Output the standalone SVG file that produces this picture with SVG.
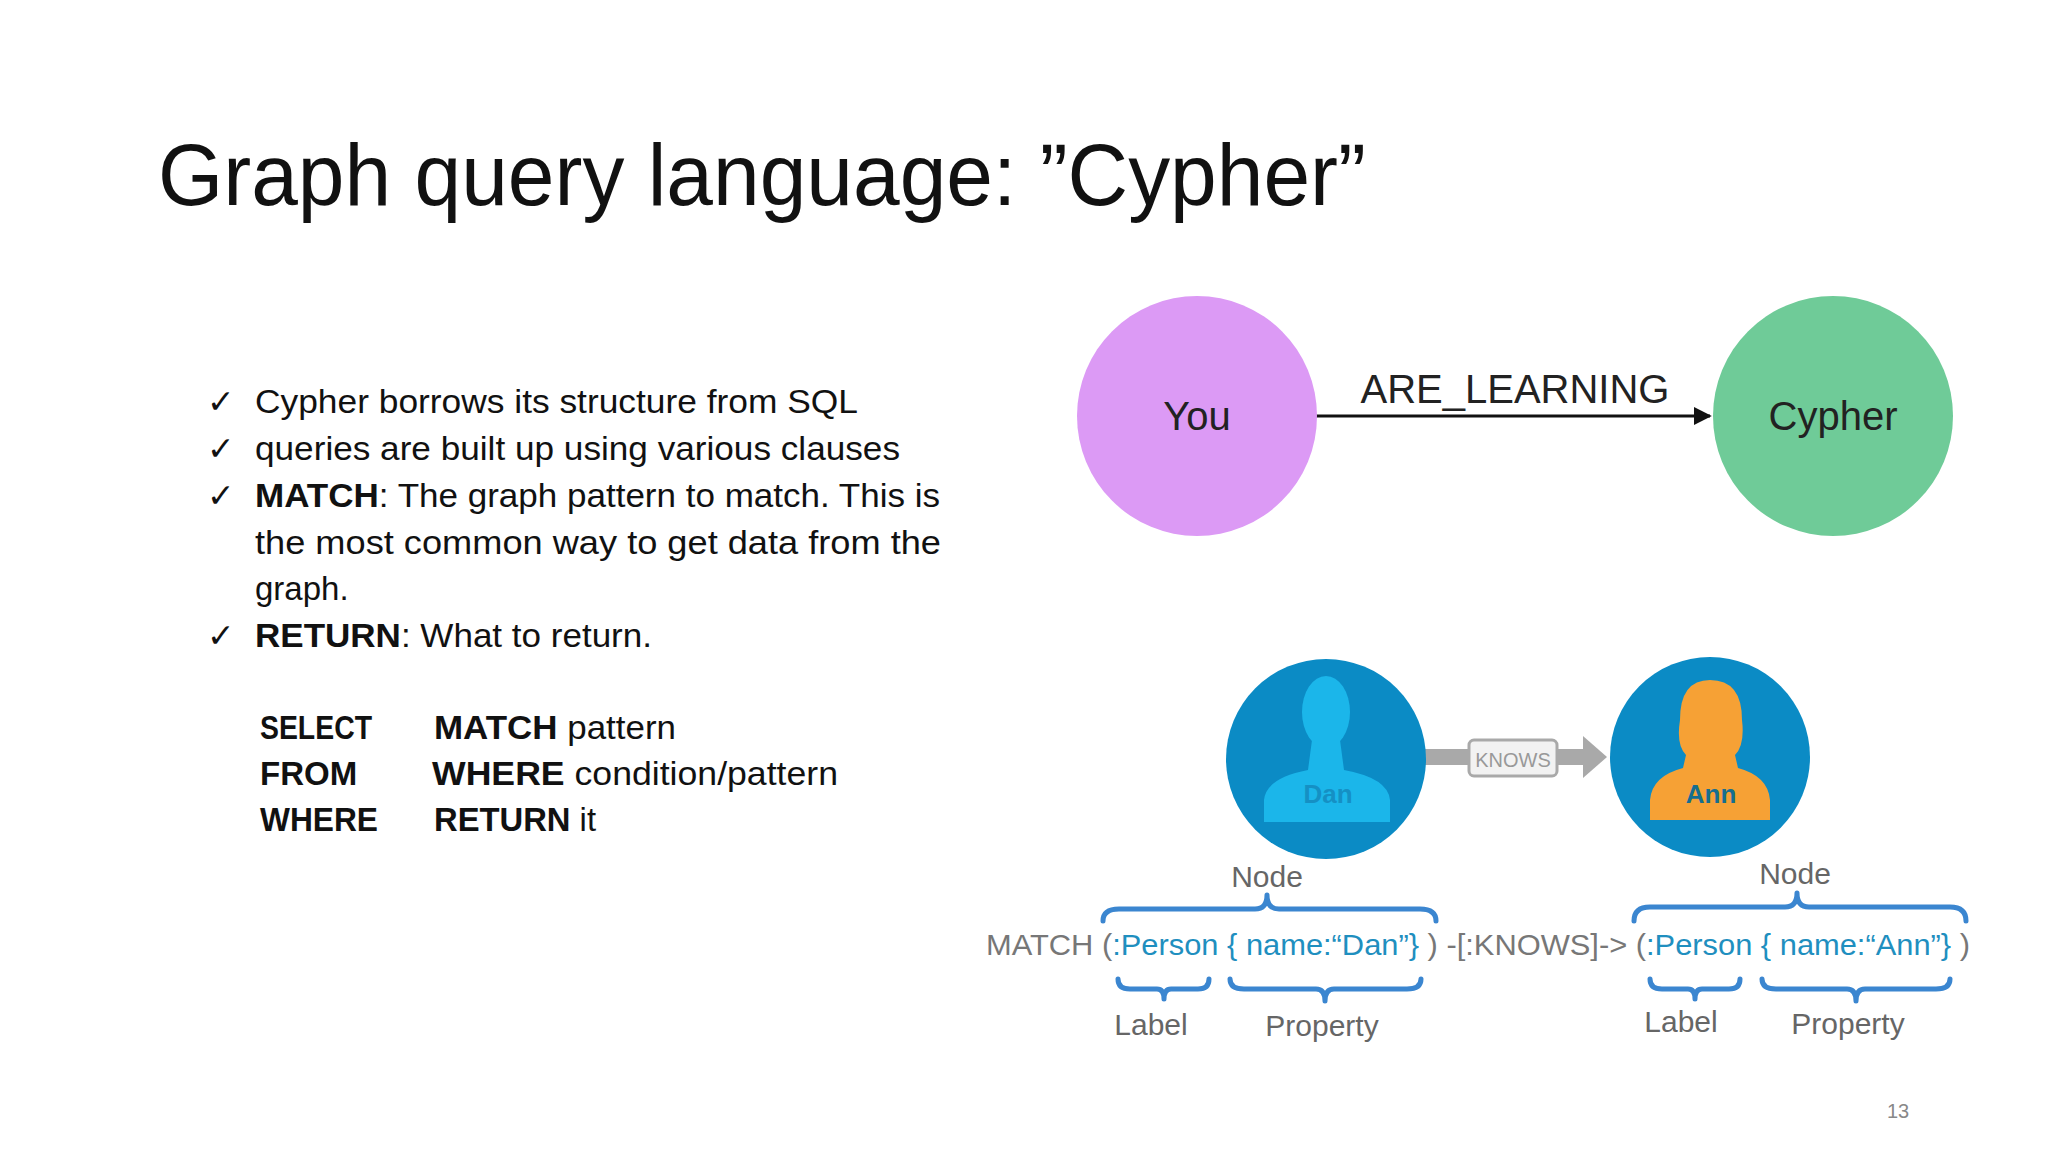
<svg xmlns="http://www.w3.org/2000/svg" width="2048" height="1152" viewBox="0 0 2048 1152">
<defs>
<style>
.t{font-family:"Liberation Sans",Arial,sans-serif}
.b{font-size:33px;fill:#111}
.bb{font-weight:bold}
.m{font-size:30px;fill:#777}
.teal{fill:#1f8fbf}
.brace{fill:none;stroke:#3b86d0;stroke-width:5;stroke-linecap:round;stroke-linejoin:round}
.lbl{font-size:30px;fill:#666;text-anchor:middle}
</style>
<marker id="ah" viewBox="0 0 10 10" refX="9" refY="5" markerWidth="6" markerHeight="6" orient="auto"><path d="M0,0L10,5L0,10z" fill="#111"/></marker>
</defs>
<rect width="2048" height="1152" fill="#fff"/>
<text class="t" x="158" y="205" font-size="88" fill="#111" textLength="1208" lengthAdjust="spacingAndGlyphs">Graph query language: ”Cypher”</text>
<g id="bullets" class="t b">
<text x="207" y="413">✓</text><text x="255" y="413" textLength="603" lengthAdjust="spacingAndGlyphs">Cypher borrows its structure from SQL</text>
<text x="207" y="460">✓</text><text x="255" y="460" textLength="645" lengthAdjust="spacingAndGlyphs">queries are built up using various clauses</text>
<text x="207" y="507">✓</text><text x="255" y="507" textLength="685" lengthAdjust="spacingAndGlyphs"><tspan class="bb">MATCH</tspan>: The graph pattern to match. This is</text>
<text x="255" y="554" textLength="686" lengthAdjust="spacingAndGlyphs">the most common way to get data from the</text>
<text x="255" y="600">graph.</text>
<text x="207" y="647">✓</text><text x="255" y="647" textLength="397" lengthAdjust="spacingAndGlyphs"><tspan class="bb">RETURN</tspan>: What to return.</text>
</g>
<g id="sql" class="t b">
<text x="260" y="739" class="bb" textLength="112" lengthAdjust="spacingAndGlyphs">SELECT</text>
<text x="260" y="785" class="bb">FROM</text>
<text x="260" y="831" class="bb" textLength="118" lengthAdjust="spacingAndGlyphs">WHERE</text>
<text x="434" y="739" textLength="242" lengthAdjust="spacingAndGlyphs"><tspan class="bb">MATCH</tspan> pattern</text>
<text x="432" y="785" textLength="406" lengthAdjust="spacingAndGlyphs"><tspan class="bb">WHERE</tspan> condition/pattern</text>
<text x="434" y="831" textLength="162" lengthAdjust="spacingAndGlyphs"><tspan class="bb">RETURN</tspan> it</text>
</g>
<g id="connectors">
<line x1="1316" y1="416" x2="1710" y2="416" stroke="#111" stroke-width="3" marker-end="url(#ah)"/>
<text class="t" x="1515" y="403" font-size="40" fill="#222" text-anchor="middle">ARE_LEARNING</text>
<rect x="1425" y="749" width="160" height="16" fill="#a9a9a9"/>
<path d="M1583,736 L1607,757 L1583,778z" fill="#a9a9a9"/>
<rect x="1469" y="740" width="88" height="36" rx="5" fill="#f2f2f2" stroke="#a9a9a9" stroke-width="3"/>
<text class="t" x="1513" y="767" font-size="20" fill="#999" text-anchor="middle">KNOWS</text>
</g>
<g id="you"><circle cx="1197" cy="416" r="120" fill="#dc9af5"/><text class="t" x="1197" y="430" font-size="40" fill="#222" text-anchor="middle">You</text></g>
<g id="cypher"><circle cx="1833" cy="416" r="120" fill="#6fcb98"/><text class="t" x="1833" y="430" font-size="40" fill="#222" text-anchor="middle">Cypher</text></g>
<g id="dan">
<circle cx="1326" cy="759" r="100" fill="#0b8bc5"/>
<ellipse cx="1326" cy="712" rx="24" ry="36" fill="#1bb6ea"/>
<path d="M1312,740 L1340,740 L1344,770 Q1388,778 1390,800 L1390,822 L1264,822 L1264,800 Q1266,778 1308,770z" fill="#1bb6ea"/>
<text class="t" x="1328" y="803" font-size="26" font-weight="bold" fill="#1590c4" text-anchor="middle">Dan</text>
</g>
<g id="ann">
<circle cx="1710" cy="757" r="100" fill="#0b8bc5"/>
<path d="M1680,720 Q1680,680 1710,680 Q1742,680 1742,720 Q1745,745 1735,755 L1738,768 Q1768,776 1770,800 L1770,820 L1650,820 L1650,800 Q1652,776 1683,768 L1686,755 Q1676,745 1680,720z" fill="#f6a135"/>
<text class="t" x="1711" y="803" font-size="26" font-weight="bold" fill="#156e8f" text-anchor="middle">Ann</text>
</g>
<g id="query">
<text class="t lbl" x="1267" y="887">Node</text>
<text class="t lbl" x="1795" y="884">Node</text>
<path class="brace" d="M1103,921 Q1103,909 1119,909 L1255,909 Q1267,909 1267,895 Q1267,909 1279,909 L1420,909 Q1436,909 1436,921"/>
<path class="brace" d="M1634,921 Q1634,907 1650,907 L1785,907 Q1797,907 1797,893 Q1797,907 1809,907 L1950,907 Q1966,907 1966,921"/>
<path class="brace" d="M1118,979 Q1118,989 1130,989 L1157,989 Q1164,989 1164,999 Q1164,989 1171,989 L1198,989 Q1209,989 1209,979"/>
<path class="brace" d="M1230,979 Q1230,989 1244,989 L1316,989 Q1325,989 1325,1001 Q1325,989 1334,989 L1407,989 Q1421,989 1421,979"/>
<path class="brace" d="M1650,979 Q1650,989 1662,989 L1688,989 Q1695,989 1695,999 Q1695,989 1702,989 L1729,989 Q1740,989 1740,979"/>
<path class="brace" d="M1762,979 Q1762,989 1776,989 L1847,989 Q1856,989 1856,1001 Q1856,989 1865,989 L1936,989 Q1950,989 1950,979"/>
<text class="t m" x="986" y="955" textLength="984" lengthAdjust="spacingAndGlyphs">MATCH (<tspan class="teal">:Person { name:“Dan”}</tspan> ) -[:KNOWS]-&gt; (<tspan class="teal">:Person { name:“Ann”}</tspan> )</text>
<text class="t lbl" x="1151" y="1035">Label</text>
<text class="t lbl" x="1322" y="1036">Property</text>
<text class="t lbl" x="1681" y="1032">Label</text>
<text class="t lbl" x="1848" y="1034">Property</text>
</g>
<text class="t" x="1898" y="1118" font-size="20" fill="#888" text-anchor="middle">13</text>
</svg>
